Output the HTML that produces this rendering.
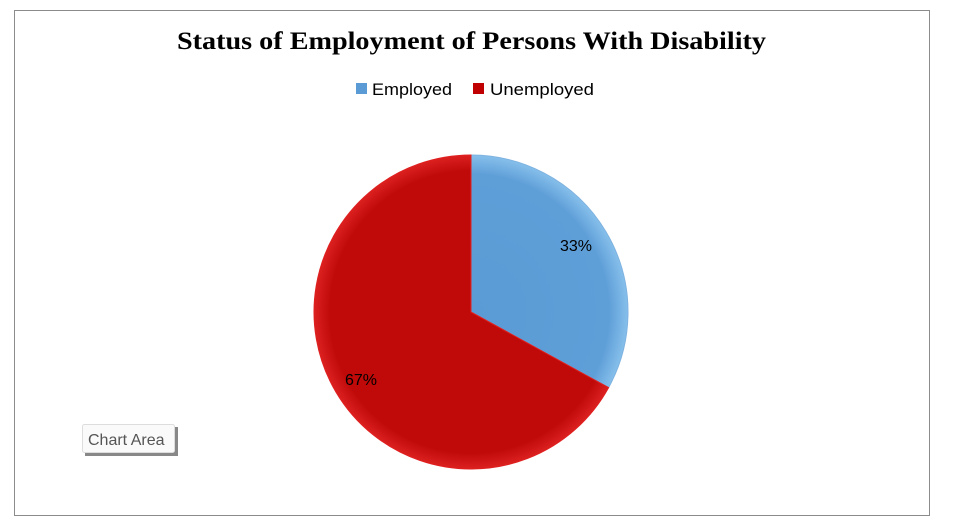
<!DOCTYPE html>
<html><head><meta charset="utf-8"><style>
html,body{margin:0;padding:0;background:#fff;}
body{width:954px;height:532px;position:relative;overflow:hidden;font-family:"Liberation Sans",sans-serif;}
</style></head><body>
<svg width="954" height="532" style="position:absolute;left:0;top:0">
<defs>
<radialGradient id="gb" cx="471" cy="312" r="157" gradientUnits="userSpaceOnUse">
<stop offset="0" stop-color="#5b9bd5"/><stop offset="0.88" stop-color="#5f9fd8"/><stop offset="1" stop-color="#86bfeb"/>
</radialGradient>
<radialGradient id="gr" cx="471" cy="312" r="157" gradientUnits="userSpaceOnUse">
<stop offset="0" stop-color="#c00a0a"/><stop offset="0.9" stop-color="#c00a0a"/><stop offset="1" stop-color="#dc2020"/>
</radialGradient>
</defs>
<rect x="14.5" y="10.5" width="915" height="505" fill="#fff" stroke="#8c8c8c"/>
<text x="177" y="49" textLength="589" lengthAdjust="spacingAndGlyphs" font-family="Liberation Serif,serif" font-weight="bold" font-size="25" fill="#000">Status of Employment of Persons With Disability</text>
<rect x="356" y="83" width="11" height="11" fill="#5b9bd5"/>
<text x="372" y="95" font-size="17" textLength="80" lengthAdjust="spacingAndGlyphs" fill="#000">Employed</text>
<rect x="473" y="83" width="11" height="11" fill="#c00000"/>
<text x="490" y="95" font-size="17" textLength="104" lengthAdjust="spacingAndGlyphs" fill="#000">Unemployed</text>
<path d="M471,312 L471,155 A157,157 0 0 1 608.6,387.6 Z" fill="url(#gb)" stroke="#7fb3e0" stroke-width="1"/>
<path d="M471,312 L608.6,387.6 A157,157 0 1 1 471,155 Z" fill="url(#gr)" stroke="#e02020" stroke-width="1"/>
<text x="560" y="251" font-size="16" fill="#000">33%</text>
<text x="345" y="385" font-size="16" fill="#000">67%</text>
<rect x="85" y="427" width="93" height="29" fill="#888"/>
<rect x="82.5" y="424.5" width="92" height="28" rx="2" fill="#fafafa" stroke="#ddd"/>
<text x="88" y="445" font-size="16" fill="#555">Chart Area</text>
</svg>
</body></html>
